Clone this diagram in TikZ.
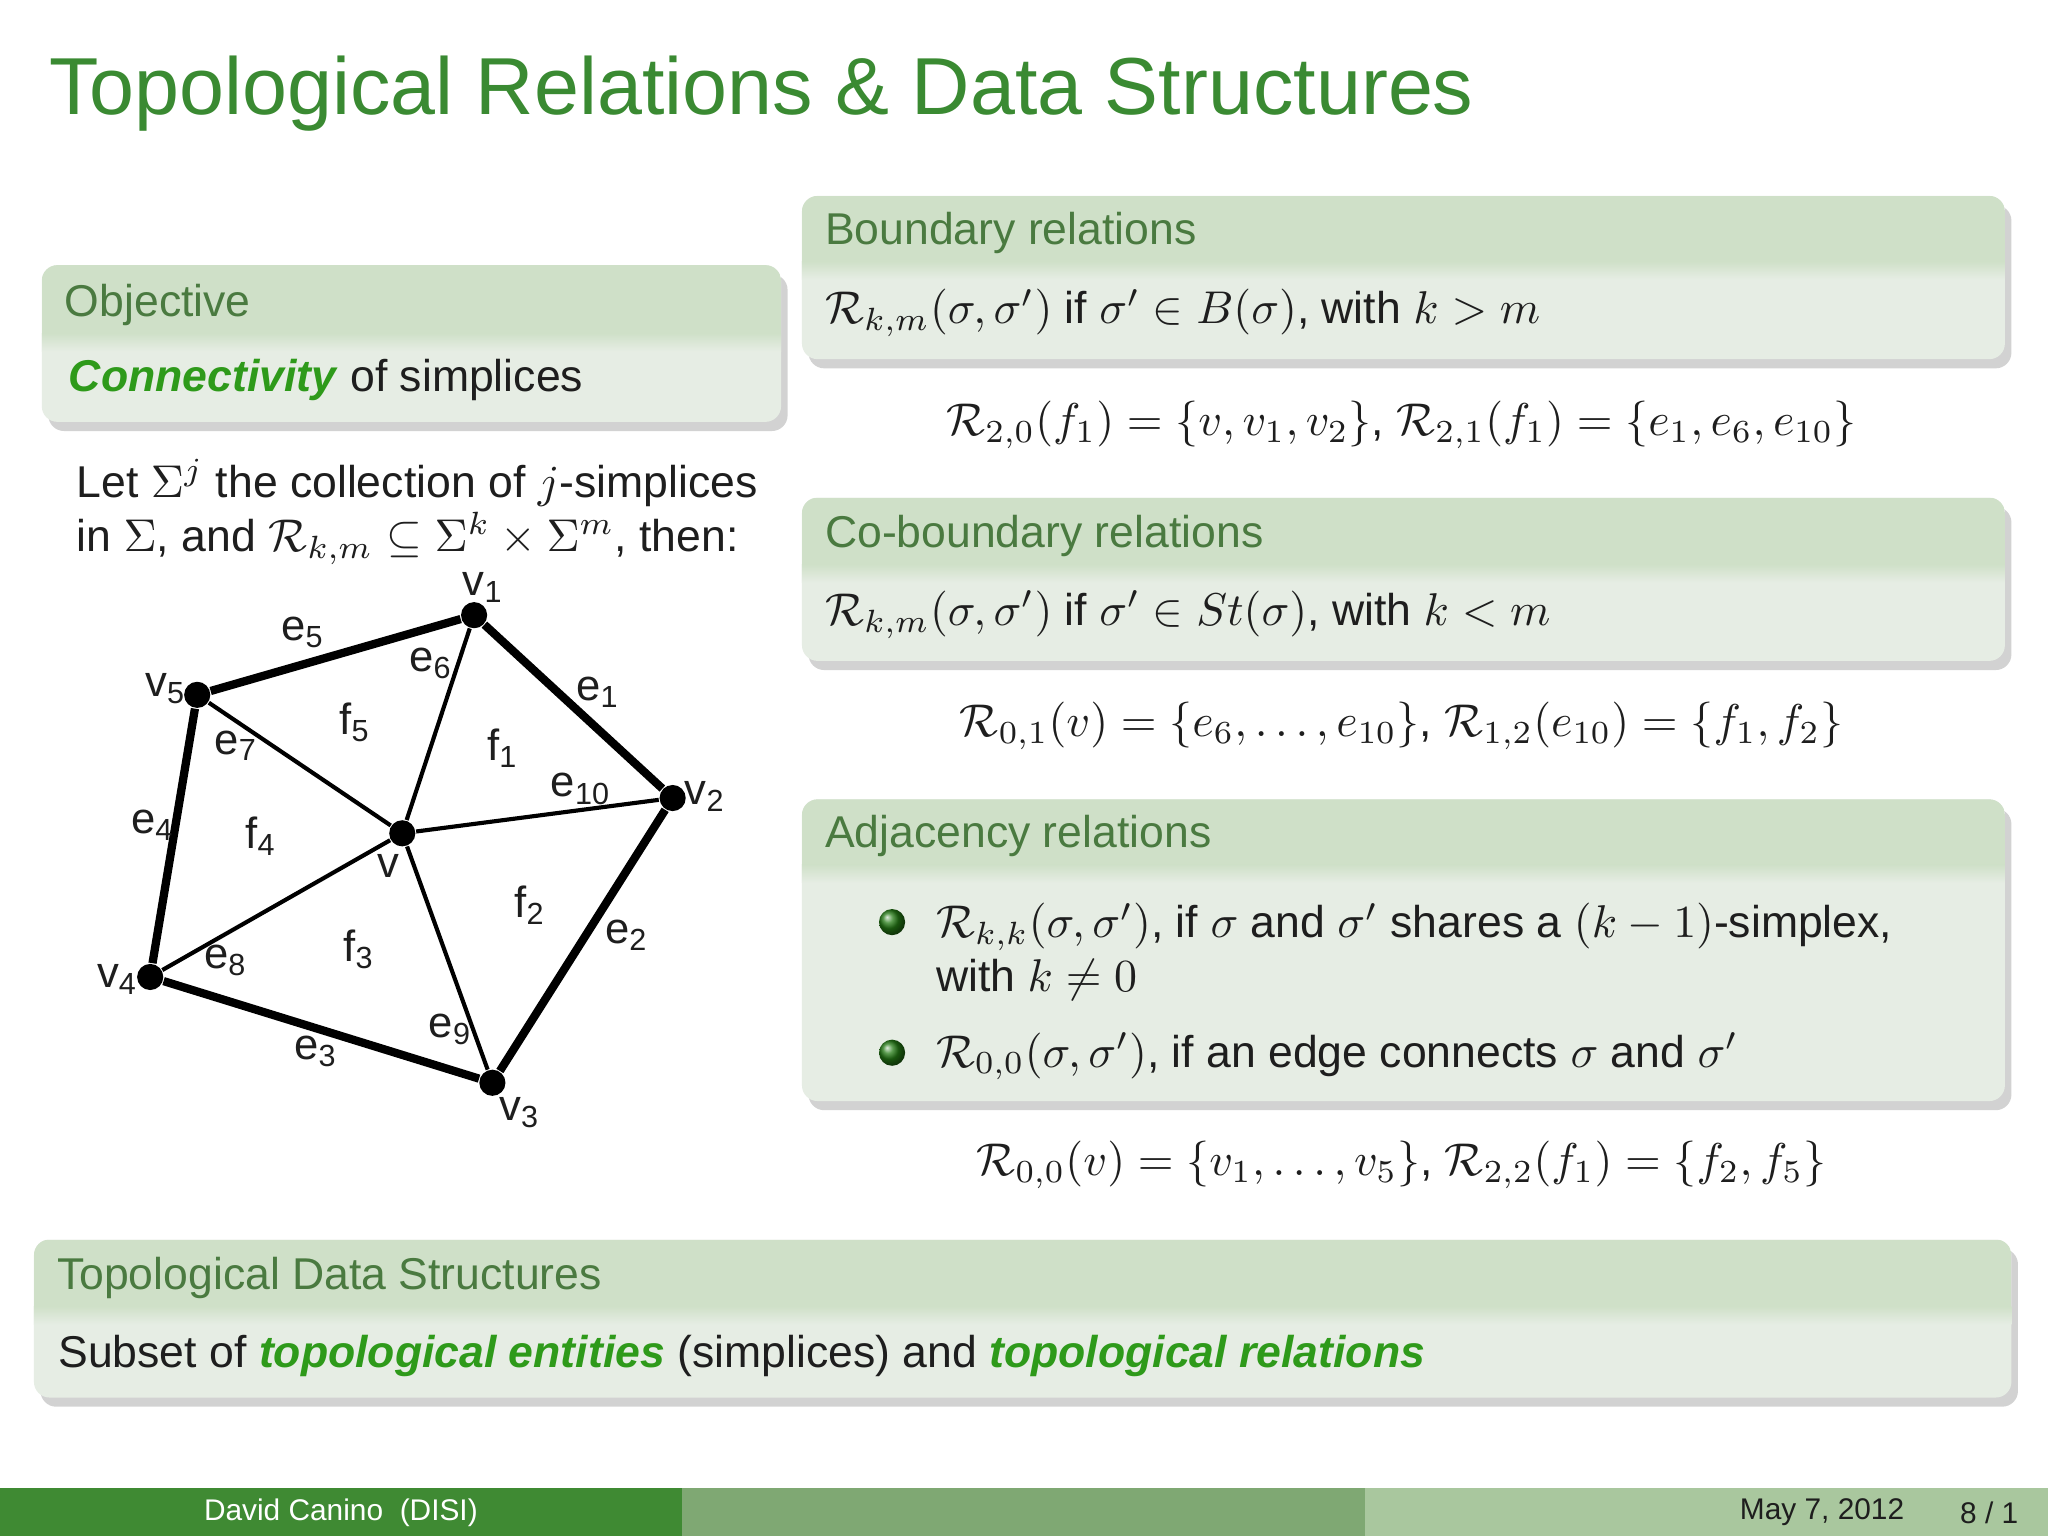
\documentclass[tikz,border=0pt]{standalone}
\usepackage{amsmath,amssymb}
\usepackage{fontspec}
\setmainfont{Liberation Sans}
\usetikzlibrary{shadows}
\definecolor{ttl}{HTML}{3A8A32}
\definecolor{hdr}{HTML}{CFE0C8}
\definecolor{bdy}{HTML}{E6EDE4}
\definecolor{htxt}{HTML}{4A7A40}
\definecolor{emg}{HTML}{2E9A1A}
\definecolor{ft1}{HTML}{3F8A33}
\definecolor{ft2}{HTML}{7FA873}
\definecolor{ft3}{HTML}{A9C79E}
\definecolor{txt}{HTML}{1E1E1E}
\newcommand\emgr[1]{\textcolor{emg}{\textbf{\textit{#1}}}}
\newcommand\myblock[7]{%
 \fill[bdy,rounded corners=0.12cm,drop shadow={shadow xshift=0.05cm,shadow yshift=-0.07cm,opacity=0.35}] (#1,#2) rectangle (#3,#4);
 \begin{scope}
 \clip[rounded corners=0.12cm] (#1,#2) rectangle (#3,#4);
 \fill[hdr] (#1,#2) rectangle (#3,#5);
 \shade[top color=hdr,bottom color=bdy] (#1,#5) rectangle (#3,#5+14);
 \end{scope}
 \node[anchor=base west,text=htxt,inner sep=0] (#7) at (#1+17,#5-13) {#6};
}
\tikzset{
 vtx/.style={circle,fill=black,inner sep=0,minimum size=0.2cm},
 lbl/.style={inner sep=0,font=\fontsize{9.5}{11}\selectfont,text=txt},
 body/.style={anchor=base west,inner sep=0,text=txt,font=\fontsize{9.7}{11.5}\selectfont},
 frm/.style={inner sep=0,text=txt,font=\fontsize{9.7}{11.5}\selectfont}
}
\begin{document}
\begin{tikzpicture}[x=0.01cm,y=-0.01cm]
\useasboundingbox (0,0) rectangle (1568,1176);
\fill[white] (0,0) rectangle (1568,1176);
\node[anchor=base west,inner sep=0,text=ttl,font=\fontsize{17.6}{21}\selectfont] (title) at (37,88) {Topological Relations \& Data Structures};
% blocks
\myblock{32}{203}{598}{323}{255}{\fontsize{9.7}{11.5}\selectfont Objective}{hobj}
\node[body] (tobj) at (52,300) {\emgr{Connectivity} of simplices};
\myblock{614}{150}{1535}{275}{200}{\fontsize{9.7}{11.5}\selectfont Boundary relations}{hbd}
\node[body] (tbd) at (631,248) {$\mathcal{R}_{k,m}(\sigma,\sigma')$ if $\sigma'\in B(\sigma)$, with $k>m$};
\myblock{614}{381}{1535}{506}{432}{\fontsize{9.7}{11.5}\selectfont Co-boundary relations}{hcb}
\node[body] (tcb) at (631,479) {$\mathcal{R}_{k,m}(\sigma,\sigma')$ if $\sigma'\in St(\sigma)$, with $k<m$};
\myblock{614}{612}{1535}{843}{662}{\fontsize{9.7}{11.5}\selectfont Adjacency relations}{had}
\shade[ball color=emg!80!black] (683,706) circle (0.1cm);
\shade[ball color=emg!80!black] (683,806) circle (0.1cm);
\node[body] (ta1) at (716,718) {$\mathcal{R}_{k,k}(\sigma,\sigma')$, if $\sigma$ and $\sigma'$ shares a $(k-1)$-simplex,};
\node[body] (ta2) at (716,759) {with $k\neq 0$};
\node[body] (ta3) at (716,817) {$\mathcal{R}_{0,0}(\sigma,\sigma')$, if an edge connects $\sigma$ and $\sigma'$};
\myblock{26}{949}{1540}{1070}{1000}{\fontsize{9.7}{11.5}\selectfont Topological Data Structures}{htd}
\node[body] (ttd) at (44,1047) {Subset of \emgr{topological entities} (simplices) and \emgr{topological relations}};
% formulas
\node[frm] (f1) at (1073,325) {$\mathcal{R}_{2,0}(f_1)=\{v,v_1,v_2\}$, $\mathcal{R}_{2,1}(f_1)=\{e_1,e_6,e_{10}\}$};
\node[frm] (f2) at (1073,556) {$\mathcal{R}_{0,1}(v)=\{e_6,\dots,e_{10}\}$, $\mathcal{R}_{1,2}(e_{10})=\{f_1,f_2\}$};
\node[frm] (f3) at (1073,892) {$\mathcal{R}_{0,0}(v)=\{v_1,\dots,v_5\}$, $\mathcal{R}_{2,2}(f_1)=\{f_2,f_5\}$};
% let text
\node[body] (let1) at (58,381) {Let $\Sigma^j$ the collection of $j$-simplices};
\node[body] (let2) at (58,422) {in $\Sigma$, and $\mathcal{R}_{k,m}\subseteq\Sigma^k\times\Sigma^m$, then:};
% graph
\node[vtx] (v1) at (363,471) {};
\node[vtx] (v2) at (515,611) {};
\node[vtx] (v3) at (377,829) {};
\node[vtx] (v4) at (115,748) {};
\node[vtx] (v5) at (151,532) {};
\node[vtx] (v) at (308,638) {};
\draw[line width=1.8pt] (v1)--(v2)--(v3)--(v4)--(v5)--(v1);
\draw[line width=0.9pt] (v)--(v1) (v)--(v2) (v)--(v3) (v)--(v4) (v)--(v5);
\node[lbl] (lv1) at (370,450) {v\textsubscript{1}};
\node[lbl] (lv2) at (540,610) {v\textsubscript{2}};
\node[lbl] (lv3) at (398,852) {v\textsubscript{3}};
\node[lbl] (lv4) at (90,750) {v\textsubscript{4}};
\node[lbl] (lv5) at (127,527) {v\textsubscript{5}};
\node[lbl] (lv) at (297,663) {v};
\node[lbl] (le1) at (458,530) {e\textsubscript{1}};
\node[lbl] (le2) at (480,716) {e\textsubscript{2}};
\node[lbl] (le3) at (242,805) {e\textsubscript{3}};
\node[lbl] (le4) at (117,632) {e\textsubscript{4}};
\node[lbl] (le5) at (232,484) {e\textsubscript{5}};
\node[lbl] (le6) at (330,508) {e\textsubscript{6}};
\node[lbl] (le7) at (181,571) {e\textsubscript{7}};
\node[lbl] (le8) at (173,735) {e\textsubscript{8}};
\node[lbl] (le9) at (345,788) {e\textsubscript{9}};
\node[lbl] (le10) at (445,604) {e\textsubscript{10}};
\node[lbl] (lf1) at (385,573) {f\textsubscript{1}};
\node[lbl] (lf2) at (406,693) {f\textsubscript{2}};
\node[lbl] (lf3) at (275,727) {f\textsubscript{3}};
\node[lbl] (lf4) at (200,640) {f\textsubscript{4}};
\node[lbl] (lf5) at (272,553) {f\textsubscript{5}};
% footer
\fill[ft1] (0,1139) rectangle (522,1176);
\fill[ft2] (522,1139) rectangle (1045,1176);
\fill[ft3] (1045,1139) rectangle (1568,1176);
\node[text=white,inner sep=0,font=\fontsize{6.5}{8}\selectfont] (fa) at (261,1158) {David Canino\ \ (DISI)};
\node[text=txt,inner sep=0,font=\fontsize{6.5}{8}\selectfont] (fd) at (1395,1158) {May 7, 2012};
\node[text=txt,inner sep=0,font=\fontsize{6.5}{8}\selectfont] (fp) at (1523,1158) {8 / 1};
\end{tikzpicture}
\end{document}
